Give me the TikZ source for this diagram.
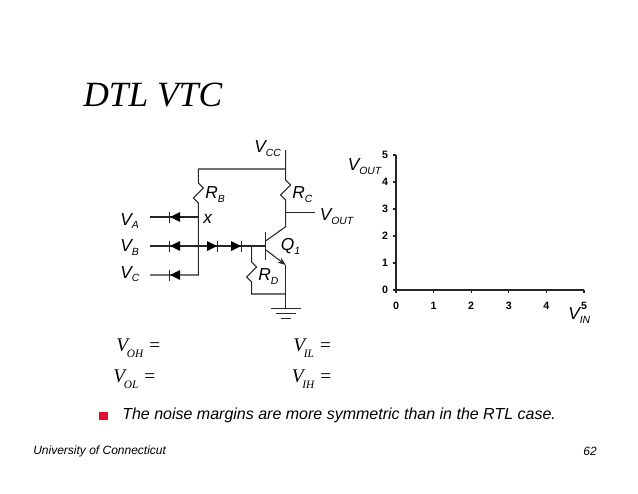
\documentclass[tikz,border=0pt]{standalone}
\usepackage{fontspec}
\setmainfont{Liberation Sans}
\newfontfamily\tnr{Liberation Serif}
\usetikzlibrary{arrows.meta}
\usetikzlibrary{calc}
\usetikzlibrary{shapes.geometric}
\definecolor{hl}{RGB}{230,10,50}
\newcommand\lab[2]{#1\raisebox{-.22em}{\fontsize{7.8}{8}\selectfont #2}}
\newcommand\labt[2]{#1\kern-.06em\raisebox{-.3em}{\fontsize{8.5}{9}\selectfont #2}}
\tikzset{
    wire/.style = {line width=0.8pt, black!85},
    res/.style = {to path={-- ++(5,5) -- ++(-10,10) -- (\tikztotarget)}},
    symb/.style = {font=\fontsize{13}{13}\itshape\selectfont, inner sep=0pt, anchor=base west},
    timesv/.style = {font=\fontsize{14.5}{15}\tnr\itshape\selectfont, inner sep=0pt, anchor=base west},
    ticklabel/.style = {font=\fontsize{8}{8}\bfseries\selectfont, inner sep=0pt},
    diode/.style = {isosceles triangle, isosceles triangle stretches, fill=black, inner sep=0pt,
        minimum height=7.5pt, minimum width=7.5pt, anchor=apex},
    dleft/.style = {diode, shape border rotate=180},
    dright/.style = {diode, shape border rotate=0},
}
\begin{document}
\begin{tikzpicture}[x=.75pt, y=-.75pt]
    \useasboundingbox[fill=white] (0,0) rectangle (638,493);
    % title
    \node[font=\fontsize{26.6}{27}\tnr\itshape\selectfont, inner sep=0pt, anchor=west] (title) at (83,95) {DTL VTC};
    % circuit
    \coordinate (vcc) at (285.7,150);
    \coordinate (top) at (285.7,169);
    \coordinate (topl) at (198.3,169);
    \coordinate (rbt) at (198.3,183);
    \coordinate (rbb) at (198.3,203);
    \coordinate (x) at (198.3,217);
    \coordinate (busb) at (198.3,246);
    \coordinate (busc) at (198.3,275);
    \coordinate (rct) at (285.7,180);
    \coordinate (rcb) at (285.7,200);
    \coordinate (out) at (285.7,212.3);
    \coordinate (outr) at (315,212.3);
    \coordinate (coll) at (285.7,226.7);
    \coordinate (cin) at (266,240.7);
    \coordinate (ein) at (266,250);
    \coordinate (emit) at (285.7,265);
    \coordinate (base) at (265.7,246);
    \coordinate (bart) at (265.7,231.7);
    \coordinate (barb) at (265.7,260);
    \coordinate (bj) at (251.7,246);
    \coordinate (rdt) at (251.7,262);
    \coordinate (rdb) at (251.7,282);
    \coordinate (rdl) at (251.7,294);
    \coordinate (gnd) at (285.7,294);
    \coordinate (gndb) at (285.7,308.5);
    \coordinate (inA) at (150,217);
    \coordinate (inB) at (150,246);
    \coordinate (inC) at (150,275);
    \draw[wire] (vcc) -- (top) -- (topl) -- (rbt) to[res] (rbb) -- (busc) -- (inC);
    \draw[wire] (inA) -- (x);
    \draw[wire] (inB) -- (base);
    \draw[wire] (top) -- (rct) to[res] (rcb) -- (coll) -- (cin);
    \draw[wire] (out) -- (outr);
    \draw[wire] (bart) -- (barb);
    \draw[wire, -{Stealth[length=6pt,width=4.5pt]}] (ein) -- (emit);
    \draw[wire] (emit) -- (gndb);
    \draw[wire] (bj) -- (rdt) to[res] (rdb) -- (rdl) -- (gnd);
    % ground
    \draw[wire] ($(gndb)+(-15,0)$) -- ($(gndb)+(15,0)$);
    \draw[wire] ($(gndb)+(-10,5)$) -- ($(gndb)+(10,5)$);
    \draw[wire] ($(gndb)+(-5,10)$) -- ($(gndb)+(5,10)$);
    % diodes
    \foreach \n/\y in {dA/217,dB/246,dC/275}{
        \node[dleft] (\n) at (169.5,\y) {};
        \draw[wire] ($(\n.apex)+(0,-5.5)$) -- ($(\n.apex)+(0,5.5)$);
    }
    \foreach \n/\x in {dD/217.7,dE/241.7}{
        \node[dright] (\n) at (\x,246) {};
        \draw[wire] ($(\n.apex)+(0,-5.5)$) -- ($(\n.apex)+(0,5.5)$);
    }
    % circuit labels
    \node[symb] (lcc) at (254,152.5) {\lab{V}{CC}};
    \node[symb] (lrb) at (205,198.5) {\lab{R}{B}};
    \node[symb] (lrc) at (292,198.5) {\lab{R}{C}};
    \node[symb] (lout) at (319.5,220.5) {\lab{V}{OUT}};
    \node[symb] (lx) at (203,223) {x};
    \node[symb] (lq) at (280.5,250.5) {\lab{Q}{1}};
    \node[symb] (lrd) at (258,280.5) {\lab{R}{D}};
    \node[symb] (la) at (120,225) {\lab{V}{A}};
    \node[symb] (lb) at (120,251.5) {\lab{V}{B}};
    \node[symb] (lc) at (120,278) {\lab{V}{C}};
    % chart
    \coordinate (o) at (396,290);
    \coordinate (ytop) at (396,155);
    \coordinate (xend) at (584,290);
    \draw[wire] (ytop) -- (o) -- (xend);
    \foreach \i in {0,...,5}{
        \draw[wire] ($(o)+(\i*37.6,0)$) -- ++(0,3);
        \draw[wire] ($(o)+(0,-\i*27)$) -- ++(-3,0);
        \node[ticklabel] (xt\i) at ($(o)+(\i*37.6,16)$) {\i};
        \node[ticklabel] (yt\i) at ($(o)+(-11,-\i*27)$) {\i};
    }
    \node[symb] (lvout) at (347.5,170.5) {\lab{V}{OUT}};
    \node[symb] (lvin) at (568,319.5) {\lab{V}{IN}};
    % equations
    \node[timesv] (voh) at (116,351.7) {\labt{V}{OH} =};
    \node[timesv] (vol) at (113,382.3) {\labt{V}{OL} =};
    \node[timesv] (vil) at (293,351.7) {\labt{V}{IL} =};
    \node[timesv] (vih) at (291.5,382.3) {\labt{V}{IH} =};
    % bullet and footer
    \node[fill=hl, minimum size=6.4pt, inner sep=0pt] (bullet) at (103.5,416) {};
    \node[font=\fontsize{12}{12}\itshape\selectfont, inner sep=0pt, anchor=west] (note) at (122,415) {The noise margins are more symmetric than in the RTL case.};
    \node[font=\fontsize{9}{9}\itshape\selectfont, inner sep=0pt, anchor=west] (uni) at (33,451) {University of Connecticut};
    \node[font=\fontsize{9}{9}\itshape\selectfont, inner sep=0pt, anchor=east] (page) at (597,451) {62};
\end{tikzpicture}
\end{document}
